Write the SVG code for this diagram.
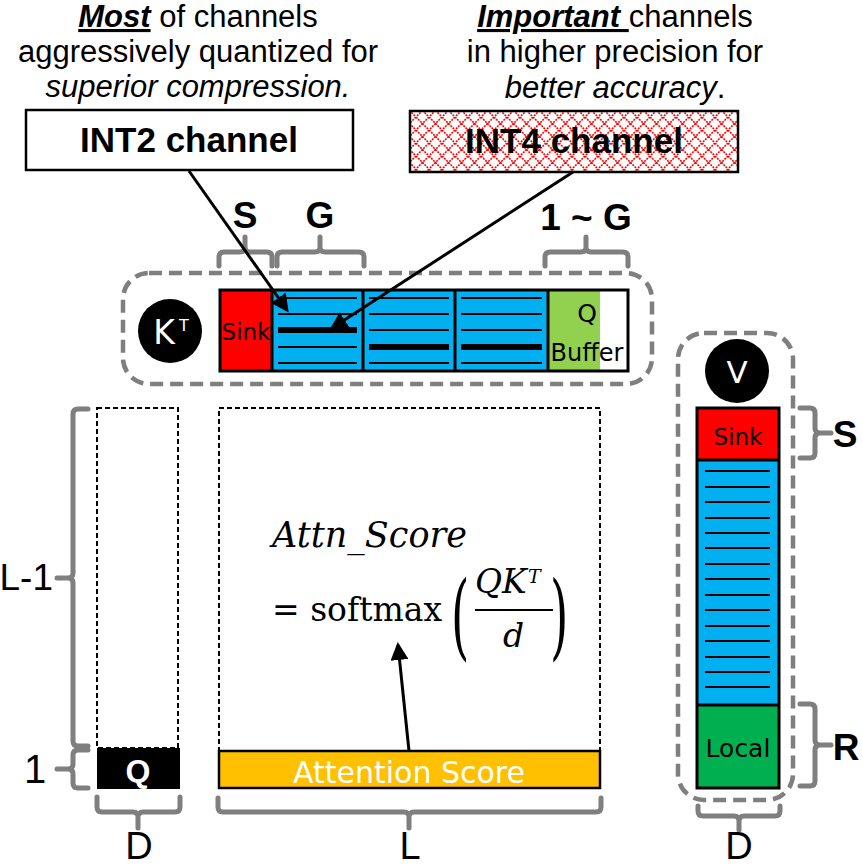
<svg xmlns="http://www.w3.org/2000/svg" width="863" height="868" viewBox="0 0 863 868">
<style>
.cap{font-family:"Liberation Sans",Arial,sans-serif;font-size:31px;fill:#000;text-anchor:middle}
.boxlbl{font-family:"Liberation Sans",Arial,sans-serif;font-size:35px;font-weight:bold;fill:#000;text-anchor:middle}
.blbl{font-family:"Liberation Sans",Arial,sans-serif;font-size:37px;font-weight:bold;fill:#000;text-anchor:middle}
.rlbl{font-family:"Liberation Sans",Arial,sans-serif;font-size:40px;fill:#000;text-anchor:middle}
.blab{font-family:"Liberation Sans",Arial,sans-serif;font-size:38px;fill:#000;text-anchor:middle}
.cg{font-family:"DejaVu Sans","Liberation Sans",sans-serif;text-anchor:middle}
.brace{fill:none;stroke:#7f7f7f;stroke-width:5;stroke-linecap:round;stroke-linejoin:round}
.grp{fill:none;stroke:#7f7f7f;stroke-width:4.5;stroke-dasharray:13 7}
.cell{stroke:#000;stroke-width:3}
.ln{stroke:#000;stroke-width:2.2}
.thick{stroke:#000;stroke-width:6}
.dash{fill:none;stroke:#000;stroke-width:2;stroke-dasharray:5 3}
.arrow{stroke:#000;stroke-width:3;fill:none;marker-end:url(#ah)}
.math{font-family:"DejaVu Serif","Liberation Serif",serif;fill:#000}
</style>
<defs>
<marker id="ah" markerWidth="6" markerHeight="6" refX="5" refY="3" orient="auto" markerUnits="strokeWidth">
<path d="M0,0 L6,3 L0,6 Z" fill="#000"/>
</marker>
<pattern id="lattice" width="13" height="13" patternUnits="userSpaceOnUse">
<rect width="13" height="13" fill="#fff"/>
<path d="M0,0 L13,13 M13,0 L0,13" stroke="#ff0000" stroke-width="1.6" stroke-dasharray="2 1"/>
</pattern>
</defs>

<g id="caption-left">
<text class="cap" x="198" y="27"><tspan font-weight="bold" font-style="italic" text-decoration="underline">Most</tspan> of channels</text>
<text class="cap" x="198" y="62">aggressively quantized for</text>
<text class="cap" x="198" y="97" font-style="italic">superior compression.</text>
</g>
<g id="caption-right">
<text class="cap" x="615" y="27"><tspan font-weight="bold" font-style="italic" text-decoration="underline">Important </tspan>channels</text>
<text class="cap" x="615" y="62">in higher precision for</text>
<text class="cap" x="615" y="98"><tspan font-style="italic">better accuracy</tspan>.</text>
</g>

<g id="int2-box">
<rect x="26" y="110" width="327" height="60" fill="#fff" stroke="#000" stroke-width="2.5"/>
<text class="boxlbl" x="189" y="152">INT2 channel</text>
</g>
<g id="int4-box">
<rect x="410" y="111" width="328" height="61" fill="url(#lattice)" stroke="#000" stroke-width="2.5"/>
<text class="boxlbl" x="574" y="153">INT4 channel</text>
</g>

<g id="k-labels">
<path class="brace" d="M219,266 V257 Q219,252 224,252 H240 Q245,252 245,247 V237 M245,247 Q245,252 250,252 H267 Q272,252 272,257 V266"/>
<text class="blbl" x="245" y="228">S</text>
<path class="brace" d="M277,266 V257 Q277,252 282,252 H315 Q320,252 320,247 V237 M320,247 Q320,252 325,252 H359 Q364,252 364,257 V266"/>
<text class="blbl" x="320" y="228">G</text>
<path class="brace" d="M545,266 V257 Q545,252 550,252 H581 Q586,252 586,247 V237 M586,247 Q586,252 591,252 H623 Q628,252 628,257 V266"/>
<text class="blbl" x="586" y="230">1 ~ G</text>
</g>

<g id="k-cache">
<rect class="grp" x="123" y="273" width="529" height="111" rx="26"/>
<circle cx="170" cy="331" r="32" fill="#000"/>
<text class="cg" x="164" y="344" font-size="33" fill="#fff">K</text>
<text class="cg" x="184" y="331" font-size="16" fill="#fff">T</text>
<rect x="220" y="290" width="52" height="81" fill="#ff0000"/>
<rect x="272" y="290" width="276" height="81" fill="#00b0f0"/>
<rect x="548" y="290" width="52" height="81" fill="#92d050"/>
<rect x="600" y="290" width="28" height="81" fill="#fff"/>
<text class="cg" x="246" y="340" font-size="23" fill="#000">Sink</text>
<text class="cg" x="587" y="322" font-size="25" fill="#000">Q</text>
<text class="cg" x="587" y="361" font-size="24" fill="#000">Buffer</text>
<g>
<line class="ln" x1="278" y1="298" x2="357" y2="298"/>
<line class="ln" x1="278" y1="314" x2="357" y2="314"/>
<line class="thick" x1="278" y1="330" x2="357" y2="330"/>
<line class="ln" x1="278" y1="347" x2="357" y2="347"/>
<line class="ln" x1="278" y1="363" x2="357" y2="363"/>
<line class="ln" x1="369" y1="298" x2="449" y2="298"/>
<line class="ln" x1="369" y1="314" x2="449" y2="314"/>
<line class="ln" x1="369" y1="330" x2="449" y2="330"/>
<line class="thick" x1="369" y1="347" x2="449" y2="347"/>
<line class="ln" x1="369" y1="363" x2="449" y2="363"/>
<line class="ln" x1="461" y1="298" x2="542" y2="298"/>
<line class="ln" x1="461" y1="314" x2="542" y2="314"/>
<line class="ln" x1="461" y1="330" x2="542" y2="330"/>
<line class="thick" x1="461" y1="347" x2="542" y2="347"/>
<line class="ln" x1="461" y1="363" x2="542" y2="363"/>
</g>
<path class="cell" d="M272,290 V371 M363,290 V371 M455,290 V371 M548,290 V371" fill="none"/>
<rect class="cell" x="220" y="290" width="408" height="81" fill="none"/>
</g>

<g id="q-vector">
<rect class="dash" x="97" y="408" width="81" height="340"/>
<rect x="97" y="748" width="83" height="41" fill="#000"/>
<text x="138" y="782" font-family="Liberation Sans,Arial,sans-serif" font-size="32" font-weight="bold" fill="#fff" text-anchor="middle">Q</text>
<path class="brace" d="M88,409 H78 Q73,409 73,414 V573 Q73,578 68,578 H57 M68,578 Q73,578 73,583 V741 Q73,746 78,746 H88"/>
<text class="rlbl" x="53" y="590" style="text-anchor:end;font-size:37px">L-1</text>
<path class="brace" d="M88,750 H78 Q73,750 73,755 V764 Q73,769 68,769 H57 M68,769 Q73,769 73,774 V783 Q73,788 78,788 H88"/>
<text class="rlbl" x="35" y="783">1</text>
<path class="brace" d="M97,797 V807 Q97,812 102,812 H133 Q138,812 138,817 V828 M138,817 Q138,812 143,812 H175 Q180,812 180,807 V797"/>
<text class="blab" x="139" y="859">D</text>
</g>

<g id="attention-matrix">
<rect class="dash" x="219" y="408" width="381" height="343"/>
<rect x="219" y="751" width="381" height="37" fill="#ffc000" stroke="#000" stroke-width="2.5"/>
<text class="cg" x="409" y="783" font-size="30" fill="#fff">Attention Score</text>
<path class="brace" d="M218,798 V807 Q218,812 223,812 H404 Q409,812 409,817 V828 M409,817 Q409,812 414,812 H596 Q601,812 601,807 V798"/>
<text class="blab" x="410" y="859">L</text>
</g>

<g id="formula">
<text class="math" x="272" y="547" font-size="35" font-style="italic">Attn_Score</text>
<text class="math" x="272" y="621" font-size="33">= softmax</text>
<text class="math" transform="translate(451,648) scale(0.5,1)" font-size="94">(</text>
<text class="math" x="475" y="593" font-size="33" font-style="italic">QK</text>
<text class="math" x="528" y="583" font-size="19" font-style="italic">T</text>
<line x1="475" y1="610" x2="553" y2="610" stroke="#000" stroke-width="2"/>
<text class="math" x="503" y="647" font-size="33" font-style="italic">d</text>
<text class="math" transform="translate(550,648) scale(0.5,1)" font-size="94">)</text>
</g>

<g id="v-cache">
<rect class="grp" x="678" y="333" width="115" height="467" rx="26"/>
<circle cx="737" cy="371" r="32" fill="#000"/>
<text class="cg" x="737" y="383" font-size="31" fill="#fff">V</text>
<rect x="697" y="408" width="82" height="52" fill="#ff0000"/>
<rect x="697" y="460" width="82" height="245" fill="#00b0f0"/>
<rect x="697" y="705" width="82" height="83" fill="#00b050"/>
<text class="cg" x="738" y="445" font-size="23" fill="#000">Sink</text>
<text class="cg" x="738" y="757" font-size="25" fill="#000">Local</text>
<path class="ln" d="M705,471 H770 M705,487 H770 M705,502 H770 M705,518 H770 M705,533 H770 M705,548 H770 M705,564 H770 M705,579 H770 M705,595 H770 M705,610 H770 M705,626 H770 M705,641 H770 M705,657 H770 M705,672 H770 M705,687 H770"/>
<path class="cell" d="M697,460 H779 M697,705 H779" fill="none"/>
<rect class="cell" x="697" y="408" width="82" height="380" fill="none"/>
<path class="brace" d="M800,408 H810 Q815,408 815,413 V428 Q815,433 820,433 H831 M820,433 Q815,433 815,438 V453 Q815,458 810,458 H800"/>
<text class="blbl" x="845" y="447">S</text>
<path class="brace" d="M800,704 H810 Q815,704 815,709 V740 Q815,745 820,745 H831 M820,745 Q815,745 815,750 V781 Q815,786 810,786 H800"/>
<text class="blbl" x="846" y="760">R</text>
<path class="brace" d="M698,806 V811 Q698,816 703,816 H734 Q739,816 739,821 V830 M739,821 Q739,816 744,816 H775 Q780,816 780,811 V806"/>
<text class="blab" x="739" y="859">D</text>
</g>

<g id="connectors">
<line class="arrow" x1="189" y1="171" x2="287" y2="310"/>
<line class="arrow" x1="573" y1="172" x2="332" y2="328"/>
<line class="arrow" x1="409" y1="751" x2="398" y2="645"/>
</g>
</svg>
